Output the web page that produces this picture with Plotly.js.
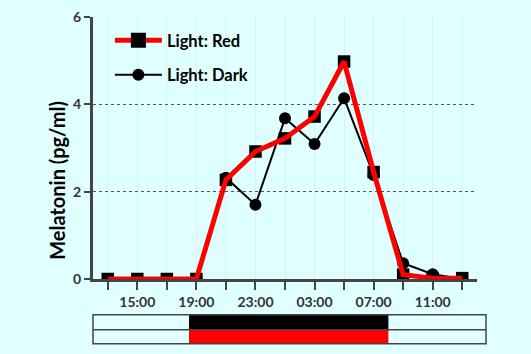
<!DOCTYPE html>
<html>
<head>
<meta charset="utf-8">
<script src="https://cdn.plot.ly/plotly-3.0.1.min.js"></script>
<style>html,body{margin:0;padding:0;background:#e0ffff;}#chart{width:531px;height:354px;}</style>
</head>
<body>
<div id="chart"></div>
<script>
// Sampling times (every 2 h, 13:00 -> 13:00 next day)
const hours = ['13:00','15:00','17:00','19:00','21:00','23:00','01:00','03:00','05:00','07:00','09:00','11:00','13:00'];
const tickLabels = ['', '15:00', '', '19:00', '', '23:00', '', '03:00', '', '07:00', '', '11:00', ''];
// Melatonin (pg/ml)
const lightRed  = [0, 0, 0, 0, 2.27, 2.92, 3.22, 3.72, 4.98, 2.45, 0.10, 0.02, 0.02];
const lightDark = [0, 0, 0, 0, 2.32, 1.70, 3.68, 3.09, 4.14, 2.38, 0.36, 0.11, 0.00];
// Dark / red-light phase, hours from midnight of day 1
const darkPeriod = [18.5, 32];
const yTicks = [0, 2, 4, 6];

const idx = hours.map((h, i) => i);
const xr = [-0.5, 12.5];
const hourToIdx = h => (h - 13) / 2;
const toPaperX = v => (v - xr[0]) / (xr[1] - xr[0]);
// plot area: top 17px, bottom 279.3px
const pyTop = 17, pyBot = 279.3;
const py = p => (pyBot - p) / (pyBot - pyTop);

const FONT = 'Lato, "Open Sans", sans-serif';

const traces = [
  {
    x: idx, y: lightDark, type: 'scatter', mode: 'lines+markers', name: 'Light: Dark',
    line: {color: '#000', width: 2},
    marker: {symbol: 'circle', size: 12, color: '#000'},
    legendgroup: 'b', legendrank: 2, hoverinfo: 'skip'
  },
  {
    x: idx, y: lightRed, type: 'scatter', mode: 'markers', name: 'Light: Red',
    marker: {symbol: 'square', size: 12.5, color: '#000'},
    showlegend: false, hoverinfo: 'skip'
  },
  {
    x: idx, y: lightRed, type: 'scatter', mode: 'lines', name: 'Light: Red',
    line: {color: '#ff0000', width: 5},
    showlegend: false, hoverinfo: 'skip'
  },
  {
    x: [null], y: [null], type: 'scatter', mode: 'lines+markers', name: 'Light: Red',
    line: {color: '#ff0000', width: 5},
    marker: {symbol: 'square', size: 15, color: '#000'},
    legendgroup: 'a', legendrank: 1, hoverinfo: 'skip'
  }
];

const dx0 = toPaperX(hourToIdx(darkPeriod[0]));
const dx1 = toPaperX(hourToIdx(darkPeriod[1]));
const boxR = (486 - 93) / 384;

const layout = {
  width: 531, height: 354,
  margin: {l: 93, r: 54, t: 17, b: 74.7, pad: 0},
  paper_bgcolor: '#e0ffff', plot_bgcolor: '#e0ffff',
  showlegend: true,
  font: {family: FONT, color: '#000'},
  xaxis: {
    range: xr, tickmode: 'array', tickvals: idx, ticktext: tickLabels,
    showline: true, linecolor: '#444', linewidth: 3,
    ticks: 'outside', ticklen: 8, tickwidth: 2, tickcolor: '#444',
    showgrid: true, gridcolor: 'rgba(0,0,0,0.05)', gridwidth: 1,
    zeroline: false, fixedrange: true,
    tickfont: {family: FONT, size: 14, color: '#333', weight: 'bold'}
  },
  yaxis: {
    range: [0, 6], tickmode: 'array', tickvals: yTicks,
    showline: true, linecolor: '#444', linewidth: 3,
    ticks: 'outside', ticklen: 6, tickwidth: 2, tickcolor: '#444',
    showgrid: true, gridcolor: '#555', griddash: 'dot', gridwidth: 1,
    zeroline: false, fixedrange: true,
    tickfont: {family: FONT, size: 14, color: '#333', weight: 'bold'}
  },
  legend: {
    x: 0.044, y: 0.977, xanchor: 'left', yanchor: 'top',
    bgcolor: 'rgba(0,0,0,0)', borderwidth: 0,
    traceorder: 'grouped', tracegroupgap: 10, itemwidth: 47,
    font: {family: FONT, size: 16.5, color: '#000', weight: 'bold'}
  },
  annotations: [{
    text: 'Melatonin (pg/ml)', textangle: -90, showarrow: false,
    xref: 'paper', yref: 'paper', x: (57 - 93) / 384, y: py(181),
    xanchor: 'center', yanchor: 'middle',
    font: {family: FONT, size: 20, color: '#000', weight: 'bold'}
  }],
  shapes: [
    {type: 'rect', xref: 'paper', yref: 'paper', x0: dx0, x1: dx1, y0: py(330), y1: py(315),
     fillcolor: '#000', line: {width: 0}},
    {type: 'rect', xref: 'paper', yref: 'paper', x0: dx0, x1: dx1, y0: py(344), y1: py(330),
     fillcolor: '#ff0000', line: {width: 0}},
    {type: 'rect', xref: 'paper', yref: 'paper', x0: 0, x1: boxR, y0: py(344), y1: py(315),
     fillcolor: 'rgba(0,0,0,0)', line: {color: '#444', width: 1.5}},
    {type: 'line', xref: 'paper', yref: 'paper', x0: 0, x1: boxR, y0: py(330), y1: py(330),
     line: {color: '#444', width: 1.5}}
  ]
};

Plotly.newPlot('chart', traces, layout, {displayModeBar: false, staticPlot: true});
</script>
</body>
</html>
